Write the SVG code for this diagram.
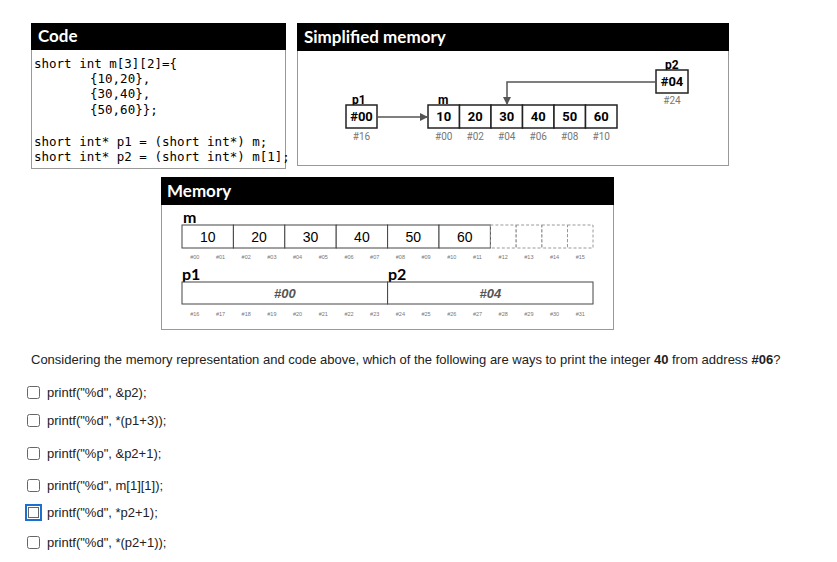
<svg xmlns="http://www.w3.org/2000/svg" width="837" height="562" viewBox="0 0 837 562">
<style>
.hdr{fill:#000}
.ht{font-family:Lato,"Liberation Sans",sans-serif;font-weight:bold;font-size:17px;fill:#fff}
.pan{fill:#fff;stroke:#999;stroke-width:1}
.code{font-family:"DejaVu Sans Mono","Liberation Mono",monospace;font-size:12.5px;fill:#000}
.cell{fill:#fff;stroke:#222;stroke-width:1.5}
.cv{font-family:Roboto,"Liberation Sans",sans-serif;font-weight:bold;font-size:13px;text-anchor:middle}
.ad{font-family:Roboto,"Liberation Sans",sans-serif;font-size:10px;fill:#777;text-anchor:middle}
.lb{font-family:Roboto,"Liberation Sans",sans-serif;font-weight:bold;font-size:12px}
.mc{fill:#fff;stroke:#444;stroke-width:1}
.dc{fill:none;stroke:#999;stroke-dasharray:3,2}
.mv{font-family:"Liberation Sans",sans-serif;font-size:14px;text-anchor:middle}
.ma{font-family:"Liberation Sans",sans-serif;font-size:5.5px;fill:#777;text-anchor:middle}
.ml{font-family:Lato,"Liberation Sans",sans-serif;font-weight:bold;font-size:16px}
.pv{font-family:"Liberation Sans",sans-serif;font-weight:bold;font-style:italic;font-size:13px;fill:#555;text-anchor:middle}
.q{font-family:"Liberation Sans",sans-serif;font-size:13px;fill:#222}
.cb{fill:#fff;stroke:#666;stroke-width:1;rx:2}
</style>
<defs><marker id="ah" markerWidth="8" markerHeight="8" refX="7" refY="4" orient="auto" markerUnits="userSpaceOnUse"><path d="M0,0L8,4L0,8z" fill="#555"/></marker></defs>
<rect width="837" height="562" fill="#fff"/>
<g id="code">
<rect class="pan" x="31.5" y="23.5" width="254" height="145"/>
<rect class="hdr" x="31" y="23" width="255" height="27"/>
<text class="ht" x="38" y="42">Code</text>
<text class="code" x="34" y="68">short int m[3][2]={</text>
<text class="code" x="90" y="83">{10,20},</text>
<text class="code" x="90" y="98">{30,40},</text>
<text class="code" x="90" y="114">{50,60}};</text>
<text class="code" x="34" y="146">short int* p1 = (short int*) m;</text>
<text class="code" x="34" y="161">short int* p2 = (short int*) m[1];</text>
</g>
<g id="simplified">
<rect class="pan" x="297.5" y="23.5" width="431" height="142"/>
<rect class="hdr" x="297" y="23" width="432" height="28"/>
<text class="ht" x="304" y="43">Simplified memory</text>
</g>
<g id="s-p1">
<text class="lb" x="352" y="104">p1</text>
<rect class="cell" x="346" y="105" width="31" height="23"/>
<text class="cv" x="361.5" y="121">#00</text>
<text class="ad" x="361.5" y="140">#16</text>
</g>
<g id="s-m">
<text class="lb" x="438" y="104">m</text>
<rect class="cell" x="428" y="105" width="31.5" height="23"/><text class="cv" x="443.8" y="121">10</text><text class="ad" x="443.8" y="140">#00</text>
<rect class="cell" x="459.5" y="105" width="31.5" height="23"/><text class="cv" x="475.3" y="121">20</text><text class="ad" x="475.3" y="140">#02</text>
<rect class="cell" x="491" y="105" width="31.5" height="23"/><text class="cv" x="506.8" y="121">30</text><text class="ad" x="506.8" y="140">#04</text>
<rect class="cell" x="522.5" y="105" width="31.5" height="23"/><text class="cv" x="538.3" y="121">40</text><text class="ad" x="538.3" y="140">#06</text>
<rect class="cell" x="554" y="105" width="31.5" height="23"/><text class="cv" x="569.8" y="121">50</text><text class="ad" x="569.8" y="140">#08</text>
<rect class="cell" x="585.5" y="105" width="31.5" height="23"/><text class="cv" x="601.3" y="121">60</text><text class="ad" x="601.3" y="140">#10</text>
</g>
<g id="s-p2">
<text class="lb" x="665" y="69">p2</text>
<rect class="cell" x="656" y="70" width="32" height="23"/>
<text class="cv" x="672" y="86">#04</text>
<text class="ad" x="672" y="104">#24</text>
</g>
<g id="connectors" fill="none" stroke="#555" stroke-width="1.5">
<path d="M377,117H427" marker-end="url(#ah)"/>
<path d="M656,82H507V104" marker-end="url(#ah)"/>
</g>
<g id="memory">
<rect class="pan" x="161.5" y="177.5" width="452" height="152"/>
<rect class="hdr" x="161" y="177" width="453" height="28"/>
<text class="ht" x="167" y="197">Memory</text>
<text class="ml" x="183" y="223">m</text>
<rect class="mc" x="182" y="225" width="51.4" height="23"/><text class="mv" x="207.7" y="242">10</text>
<rect class="mc" x="233.4" y="225" width="51.4" height="23"/><text class="mv" x="259.1" y="242">20</text>
<rect class="mc" x="284.8" y="225" width="51.4" height="23"/><text class="mv" x="310.5" y="242">30</text>
<rect class="mc" x="336.2" y="225" width="51.4" height="23"/><text class="mv" x="361.9" y="242">40</text>
<rect class="mc" x="387.6" y="225" width="51.4" height="23"/><text class="mv" x="413.3" y="242">50</text>
<rect class="mc" x="439" y="225" width="51.4" height="23"/><text class="mv" x="464.7" y="242">60</text>
<rect class="dc" x="490.4" y="225" width="25.7" height="23"/>
<rect class="dc" x="516.1" y="225" width="25.7" height="23"/>
<rect class="dc" x="541.8" y="225" width="25.7" height="23"/>
<rect class="dc" x="567.5" y="225" width="25.5" height="23"/>
<g>
<text class="ma" x="194.8" y="259">#00</text><text class="ma" x="220.5" y="259">#01</text><text class="ma" x="246.2" y="259">#02</text><text class="ma" x="271.9" y="259">#03</text><text class="ma" x="297.6" y="259">#04</text><text class="ma" x="323.3" y="259">#05</text><text class="ma" x="349" y="259">#06</text><text class="ma" x="374.7" y="259">#07</text><text class="ma" x="400.4" y="259">#08</text><text class="ma" x="426.1" y="259">#09</text><text class="ma" x="451.8" y="259">#10</text><text class="ma" x="477.5" y="259">#11</text><text class="ma" x="503.2" y="259">#12</text><text class="ma" x="528.9" y="259">#13</text><text class="ma" x="554.6" y="259">#14</text><text class="ma" x="580.3" y="259">#15</text>
</g>
<text class="ml" x="182" y="280">p1</text>
<text class="ml" x="388" y="280">p2</text>
<rect class="mc" x="182" y="282" width="205.6" height="22"/><text class="pv" x="284.8" y="298">#00</text>
<rect class="mc" x="387.6" y="282" width="205.4" height="22"/><text class="pv" x="490.3" y="298">#04</text>
<g>
<text class="ma" x="194.8" y="316">#16</text><text class="ma" x="220.5" y="316">#17</text><text class="ma" x="246.2" y="316">#18</text><text class="ma" x="271.9" y="316">#19</text><text class="ma" x="297.6" y="316">#20</text><text class="ma" x="323.3" y="316">#21</text><text class="ma" x="349" y="316">#22</text><text class="ma" x="374.7" y="316">#23</text><text class="ma" x="400.4" y="316">#24</text><text class="ma" x="426.1" y="316">#25</text><text class="ma" x="451.8" y="316">#26</text><text class="ma" x="477.5" y="316">#27</text><text class="ma" x="503.2" y="316">#28</text><text class="ma" x="528.9" y="316">#29</text><text class="ma" x="554.6" y="316">#30</text><text class="ma" x="580.3" y="316">#31</text>
</g>
</g>
<g id="question">
<text class="q" x="31" y="364">Considering the memory representation and code above, which of the following are ways to print the integer <tspan font-weight="bold">40</tspan> from address <tspan font-weight="bold">#06</tspan>?</text>
<rect class="cb" x="27.5" y="386.5" width="12" height="12"/><text class="q" x="47" y="397">printf("%d", &amp;p2);</text>
<rect class="cb" x="27.5" y="414.5" width="12" height="12"/><text class="q" x="47" y="425">printf("%d", *(p1+3));</text>
<rect class="cb" x="27.5" y="447.5" width="12" height="12"/><text class="q" x="47" y="458">printf("%p", &amp;p2+1);</text>
<rect class="cb" x="27.5" y="479.5" width="12" height="12"/><text class="q" x="47" y="490">printf("%d", m[1][1]);</text>
<rect x="26" y="505" width="15" height="15" fill="#fff" stroke="#1a6fd1" stroke-width="2"/><rect x="28.5" y="507.5" width="10" height="10" fill="none" stroke="#666" stroke-width="1"/><text class="q" x="47" y="517">printf("%d", *p2+1);</text>
<rect class="cb" x="27.5" y="536.5" width="12" height="12"/><text class="q" x="47" y="547">printf("%d", *(p2+1));</text>
</g>
</svg>
